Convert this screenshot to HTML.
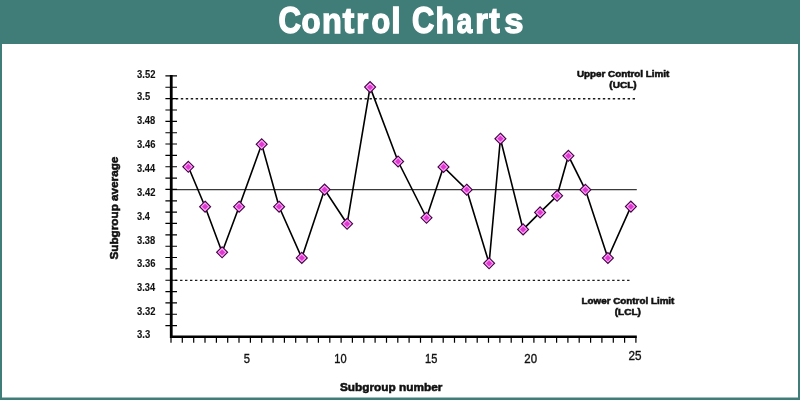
<!DOCTYPE html>
<html><head><meta charset="utf-8"><style>
html,body{margin:0;padding:0;width:800px;height:400px;overflow:hidden;background:#fff;}
svg{display:block;will-change:transform;}
text{font-family:"Liberation Sans",sans-serif;}
</style></head><body>
<svg width="800" height="400" viewBox="0 0 800 400">
<rect x="0" y="0" width="800" height="400" fill="#407c78"/>
<rect x="2" y="44" width="796" height="353.5" fill="#fff"/>
<text transform="matrix(0.8615 0 0 1 278.38 32.88)" font-size="36.14" font-weight="bold" fill="#fff" stroke="#fff" stroke-width="1.4">C</text>
<text transform="matrix(0.8988 0 0 1 301.58 32.88)" font-size="34.72" font-weight="bold" fill="#fff" stroke="#fff" stroke-width="1.4">o</text>
<text transform="matrix(0.9324 0 0 1 322.06 32.88)" font-size="34.72" font-weight="bold" fill="#fff" stroke="#fff" stroke-width="1.4">n</text>
<text transform="matrix(1.0027 0 0 1 342.79 32.88)" font-size="34.23" font-weight="bold" fill="#fff" stroke="#fff" stroke-width="1.4">t</text>
<text transform="matrix(0.8870 0 0 1 356.17 32.88)" font-size="34.72" font-weight="bold" fill="#fff" stroke="#fff" stroke-width="1.4">r</text>
<text transform="matrix(0.8825 0 0 1 371.40 32.88)" font-size="34.72" font-weight="bold" fill="#fff" stroke="#fff" stroke-width="1.4">o</text>
<text transform="matrix(0.9416 0 0 1 391.26 32.88)" font-size="35.96" font-weight="bold" fill="#fff" stroke="#fff" stroke-width="1.4">l</text>
<text transform="matrix(0.8530 0 0 1 412.10 32.88)" font-size="36.14" font-weight="bold" fill="#fff" stroke="#fff" stroke-width="1.4">C</text>
<text transform="matrix(0.8540 0 0 1 435.48 32.88)" font-size="35.96" font-weight="bold" fill="#fff" stroke="#fff" stroke-width="1.4">h</text>
<text transform="matrix(0.8010 0 0 1 456.80 32.88)" font-size="34.72" font-weight="bold" fill="#fff" stroke="#fff" stroke-width="1.4">a</text>
<text transform="matrix(0.9350 0 0 1 475.36 32.88)" font-size="34.72" font-weight="bold" fill="#fff" stroke="#fff" stroke-width="1.4">r</text>
<text transform="matrix(0.9179 0 0 1 489.32 32.88)" font-size="34.23" font-weight="bold" fill="#fff" stroke="#fff" stroke-width="1.4">t</text>
<text transform="matrix(0.9951 0 0 1 504.25 32.88)" font-size="34.72" font-weight="bold" fill="#fff" stroke="#fff" stroke-width="1.4">s</text>
<line x1="171.2" y1="189.6" x2="636.8" y2="189.6" stroke="#3a3a3a" stroke-width="1.3"/>
<line x1="171.2" y1="98.75" x2="635.3" y2="98.75" stroke="#1a1a1a" stroke-width="1.4" stroke-dasharray="2.4 2.565" stroke-dashoffset="0.33"/>
<line x1="171.2" y1="280.4" x2="629.8" y2="280.4" stroke="#1a1a1a" stroke-width="1.4" stroke-dasharray="2.4 2.567" stroke-dashoffset="1.08"/>
<path d="M165.4 75.9H177.0M165.4 87.2H177.0M165.4 98.6H177.0M165.4 110.0H177.0M165.4 121.3H177.0M165.4 132.7H177.0M165.4 144.0H177.0M165.4 155.4H177.0M165.4 166.7H177.0M165.4 178.1H177.0M165.4 189.4H177.0M165.4 200.8H177.0M165.4 212.1H177.0M165.4 223.4H177.0M165.4 234.8H177.0M165.4 246.2H177.0M165.4 257.5H177.0M165.4 268.9H177.0M165.4 280.2H177.0M165.4 291.6H177.0M165.4 302.9H177.0M165.4 314.2H177.0M165.4 325.6H177.0" stroke="#000" stroke-width="1.15" fill="none"/>
<path d="M171.0 336.7V342.8M182.3 336.7V342.8M193.7 336.7V342.8M205.0 336.7V342.8M216.4 336.7V342.8M227.7 336.7V342.8M239.0 336.7V342.8M250.4 336.7V342.8M261.7 336.7V342.8M273.1 336.7V342.8M284.4 336.7V342.8M295.7 336.7V342.8M307.1 336.7V342.8M318.4 336.7V342.8M329.8 336.7V342.8M341.1 336.7V342.8M352.4 336.7V342.8M363.8 336.7V342.8M375.1 336.7V342.8M386.5 336.7V342.8M397.8 336.7V342.8M409.1 336.7V342.8M420.5 336.7V342.8M431.8 336.7V342.8M443.2 336.7V342.8M454.5 336.7V342.8M465.8 336.7V342.8M477.2 336.7V342.8M488.5 336.7V342.8M499.9 336.7V342.8M511.2 336.7V342.8M522.5 336.7V342.8M533.9 336.7V342.8M545.2 336.7V342.8M556.6 336.7V342.8M567.9 336.7V342.8M579.2 336.7V342.8M590.6 336.7V342.8M601.9 336.7V342.8M613.3 336.7V342.8M624.6 336.7V342.8M635.9 336.7V342.8" stroke="#000" stroke-width="1.2" fill="none"/>
<path d="M171.25 75V337.9" stroke="#000" stroke-width="2.8" fill="none"/>
<path d="M171.2 336.7H636.8" stroke="#000" stroke-width="2.4" fill="none"/>
<text transform="matrix(0.8884 0 0 1 137.06 77.77)" font-size="10.61" font-weight="bold" fill="#111" stroke="#111" stroke-width="0.1">3.52</text>
<text transform="matrix(0.8872 0 0 1 137.06 100.47)" font-size="10.61" font-weight="bold" fill="#111" stroke="#111" stroke-width="0.1">3.5</text>
<text transform="matrix(0.8837 0 0 1 137.06 124.47)" font-size="10.61" font-weight="bold" fill="#111" stroke="#111" stroke-width="0.1">3.48</text>
<text transform="matrix(0.8884 0 0 1 137.06 147.97)" font-size="10.61" font-weight="bold" fill="#111" stroke="#111" stroke-width="0.1">3.46</text>
<text transform="matrix(0.8745 0 0 1 137.06 171.77)" font-size="10.61" font-weight="bold" fill="#111" stroke="#111" stroke-width="0.1">3.44</text>
<text transform="matrix(0.8884 0 0 1 137.06 195.97)" font-size="10.61" font-weight="bold" fill="#111" stroke="#111" stroke-width="0.1">3.42</text>
<text transform="matrix(0.8678 0 0 1 137.06 219.77)" font-size="10.61" font-weight="bold" fill="#111" stroke="#111" stroke-width="0.1">3.4</text>
<text transform="matrix(0.8837 0 0 1 137.06 243.77)" font-size="10.61" font-weight="bold" fill="#111" stroke="#111" stroke-width="0.1">3.38</text>
<text transform="matrix(0.8884 0 0 1 137.06 267.37)" font-size="10.61" font-weight="bold" fill="#111" stroke="#111" stroke-width="0.1">3.36</text>
<text transform="matrix(0.8745 0 0 1 137.06 291.37)" font-size="10.61" font-weight="bold" fill="#111" stroke="#111" stroke-width="0.1">3.34</text>
<text transform="matrix(0.8884 0 0 1 137.06 315.17)" font-size="10.61" font-weight="bold" fill="#111" stroke="#111" stroke-width="0.1">3.32</text>
<text transform="matrix(0.8939 0 0 1 137.06 337.77)" font-size="10.61" font-weight="bold" fill="#111" stroke="#111" stroke-width="0.1">3.3</text>
<text transform="matrix(0.8880 0 0 1 243.71 362.89)" font-size="12.66" font-weight="normal" fill="#111" stroke="#111" stroke-width="0.35">5</text>
<text transform="matrix(0.9218 0 0 1 334.27 362.79)" font-size="11.98" font-weight="normal" fill="#111" stroke="#111" stroke-width="0.35">10</text>
<text transform="matrix(0.9087 0 0 1 425.02 362.79)" font-size="12.16" font-weight="normal" fill="#111" stroke="#111" stroke-width="0.35">15</text>
<text transform="matrix(0.9448 0 0 1 524.33 362.89)" font-size="12.12" font-weight="normal" fill="#111" stroke="#111" stroke-width="0.35">20</text>
<text transform="matrix(0.9538 0 0 1 628.57 359.64)" font-size="12.27" font-weight="normal" fill="#111" stroke="#111" stroke-width="0.35">25</text>
<text transform="matrix(1.0540 0 0 1 339.99 391.23)" font-size="11.22" font-weight="bold" fill="#111" stroke="#111" stroke-width="0.55">Subgroup number</text>
<g transform="translate(118 259.4) rotate(-90)"><text transform="matrix(1.0442 0 0 1 -0.10 -0.17)" font-size="11.22" font-weight="bold" fill="#111" stroke="#111" stroke-width="0.55">Subgroup average</text></g>
<text transform="matrix(1.0446 0 0 1 576.91 77.33)" font-size="9.43" font-weight="bold" fill="#111" stroke="#111" stroke-width="0.55">Upper Control Limit</text>
<text transform="matrix(1.0394 0 0 1 609.34 88.23)" font-size="9.70" font-weight="bold" fill="#111" stroke="#111" stroke-width="0.55">(UCL)</text>
<text transform="matrix(1.0506 0 0 1 581.56 304.08)" font-size="9.37" font-weight="bold" fill="#111" stroke="#111" stroke-width="0.55">Lower Control Limit</text>
<text transform="matrix(1.0792 0 0 1 614.75 315.13)" font-size="9.27" font-weight="bold" fill="#111" stroke="#111" stroke-width="0.55">(LCL)</text>
<polyline points="188.30,166.80 205.10,206.70 222.10,252.30 239.10,206.70 261.70,144.30 279.10,206.70 301.80,257.90 324.60,189.60 347.10,223.80 370.10,87.10 398.10,161.50 426.50,217.80 443.50,166.90 466.70,189.70 489.10,263.30 500.40,138.70 523.10,229.40 540.10,212.40 557.10,195.80 568.40,155.80 585.40,189.80 607.90,258.00 630.90,206.60" fill="none" stroke="#000" stroke-width="1.6"/>
<path d="M188.30 161.40L193.70 166.80L188.30 172.20L182.90 166.80ZM205.10 201.30L210.50 206.70L205.10 212.10L199.70 206.70ZM222.10 246.90L227.50 252.30L222.10 257.70L216.70 252.30ZM239.10 201.30L244.50 206.70L239.10 212.10L233.70 206.70ZM261.70 138.90L267.10 144.30L261.70 149.70L256.30 144.30ZM279.10 201.30L284.50 206.70L279.10 212.10L273.70 206.70ZM301.80 252.50L307.20 257.90L301.80 263.30L296.40 257.90ZM324.60 184.20L330.00 189.60L324.60 195.00L319.20 189.60ZM347.10 218.40L352.50 223.80L347.10 229.20L341.70 223.80ZM370.10 81.70L375.50 87.10L370.10 92.50L364.70 87.10ZM398.10 156.10L403.50 161.50L398.10 166.90L392.70 161.50ZM426.50 212.40L431.90 217.80L426.50 223.20L421.10 217.80ZM443.50 161.50L448.90 166.90L443.50 172.30L438.10 166.90ZM466.70 184.30L472.10 189.70L466.70 195.10L461.30 189.70ZM489.10 257.90L494.50 263.30L489.10 268.70L483.70 263.30ZM500.40 133.30L505.80 138.70L500.40 144.10L495.00 138.70ZM523.10 224.00L528.50 229.40L523.10 234.80L517.70 229.40ZM540.10 207.00L545.50 212.40L540.10 217.80L534.70 212.40ZM557.10 190.40L562.50 195.80L557.10 201.20L551.70 195.80ZM568.40 150.40L573.80 155.80L568.40 161.20L563.00 155.80ZM585.40 184.40L590.80 189.80L585.40 195.20L580.00 189.80ZM607.90 252.60L613.30 258.00L607.90 263.40L602.50 258.00ZM630.90 201.20L636.30 206.60L630.90 212.00L625.50 206.60Z" fill="#e038d0" stroke="#460846" stroke-width="1.25"/>
<path d="M188.30 163.00L192.10 166.80L188.30 170.60L184.50 166.80ZM205.10 202.90L208.90 206.70L205.10 210.50L201.30 206.70ZM222.10 248.50L225.90 252.30L222.10 256.10L218.30 252.30ZM239.10 202.90L242.90 206.70L239.10 210.50L235.30 206.70ZM261.70 140.50L265.50 144.30L261.70 148.10L257.90 144.30ZM279.10 202.90L282.90 206.70L279.10 210.50L275.30 206.70ZM301.80 254.10L305.60 257.90L301.80 261.70L298.00 257.90ZM324.60 185.80L328.40 189.60L324.60 193.40L320.80 189.60ZM347.10 220.00L350.90 223.80L347.10 227.60L343.30 223.80ZM370.10 83.30L373.90 87.10L370.10 90.90L366.30 87.10ZM398.10 157.70L401.90 161.50L398.10 165.30L394.30 161.50ZM426.50 214.00L430.30 217.80L426.50 221.60L422.70 217.80ZM443.50 163.10L447.30 166.90L443.50 170.70L439.70 166.90ZM466.70 185.90L470.50 189.70L466.70 193.50L462.90 189.70ZM489.10 259.50L492.90 263.30L489.10 267.10L485.30 263.30ZM500.40 134.90L504.20 138.70L500.40 142.50L496.60 138.70ZM523.10 225.60L526.90 229.40L523.10 233.20L519.30 229.40ZM540.10 208.60L543.90 212.40L540.10 216.20L536.30 212.40ZM557.10 192.00L560.90 195.80L557.10 199.60L553.30 195.80ZM568.40 152.00L572.20 155.80L568.40 159.60L564.60 155.80ZM585.40 186.00L589.20 189.80L585.40 193.60L581.60 189.80ZM607.90 254.20L611.70 258.00L607.90 261.80L604.10 258.00ZM630.90 202.80L634.70 206.60L630.90 210.40L627.10 206.60Z" fill="none" stroke="#f7a2f5" stroke-width="1.1"/>
</svg></body></html>
